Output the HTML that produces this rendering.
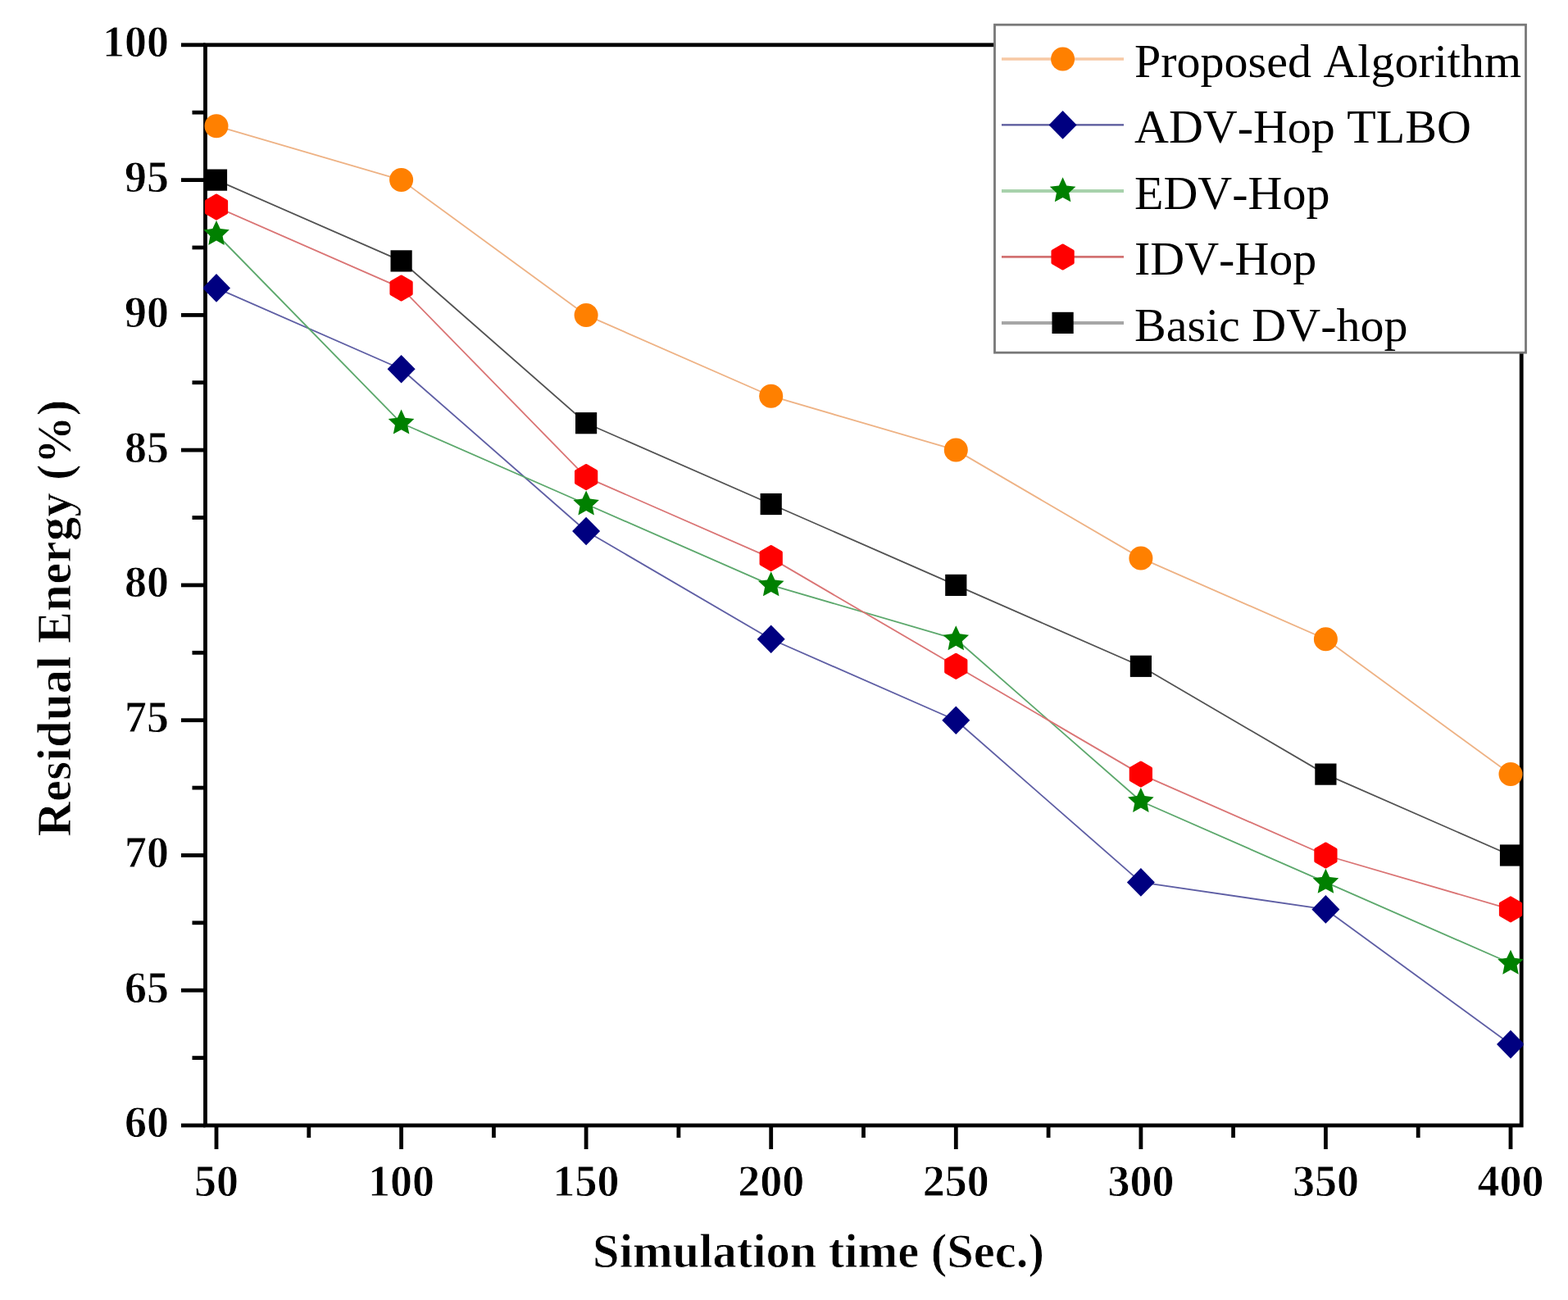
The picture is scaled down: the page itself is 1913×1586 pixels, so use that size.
<!DOCTYPE html>
<html><head><meta charset="utf-8"><style>
html,body{margin:0;padding:0;background:#fff;}
svg{display:block;}
text{font-kerning:none;font-feature-settings:"kern" 0;}
.tl{font-family:"Liberation Serif","Times New Roman",serif;font-weight:bold;font-size:54px;fill:#000;stroke:#fff;stroke-width:0.8px;}
.ti{font-family:"Liberation Serif","Times New Roman",serif;font-weight:bold;font-size:58.5px;fill:#000;stroke:#fff;stroke-width:0.8px;}
.lg{font-family:"Liberation Serif","Times New Roman",serif;font-size:58px;fill:#000;}
</style></head><body>
<svg width="1913" height="1586" viewBox="0 0 1913 1586">
<defs><clipPath id="pc"><rect x="248.10" y="0" width="1610.50" height="1586"/></clipPath></defs>
<rect width="1913" height="1586" fill="#fff"/>
<g>
<rect x="250.5" y="54.8" width="1605.7" height="1318.2" fill="none" stroke="#000" stroke-width="4.8"/>
<line x1="221" y1="1373.0" x2="250.5" y2="1373.0" stroke="#000" stroke-width="4.8"/>
<text x="206" y="1387.4" text-anchor="end" class="tl">60</text>
<line x1="221" y1="1208.2" x2="250.5" y2="1208.2" stroke="#000" stroke-width="4.8"/>
<text x="206" y="1222.6" text-anchor="end" class="tl">65</text>
<line x1="221" y1="1043.5" x2="250.5" y2="1043.5" stroke="#000" stroke-width="4.8"/>
<text x="206" y="1057.9" text-anchor="end" class="tl">70</text>
<line x1="221" y1="878.7" x2="250.5" y2="878.7" stroke="#000" stroke-width="4.8"/>
<text x="206" y="893.1" text-anchor="end" class="tl">75</text>
<line x1="221" y1="713.9" x2="250.5" y2="713.9" stroke="#000" stroke-width="4.8"/>
<text x="206" y="728.3" text-anchor="end" class="tl">80</text>
<line x1="221" y1="549.1" x2="250.5" y2="549.1" stroke="#000" stroke-width="4.8"/>
<text x="206" y="563.5" text-anchor="end" class="tl">85</text>
<line x1="221" y1="384.4" x2="250.5" y2="384.4" stroke="#000" stroke-width="4.8"/>
<text x="206" y="398.8" text-anchor="end" class="tl">90</text>
<line x1="221" y1="219.6" x2="250.5" y2="219.6" stroke="#000" stroke-width="4.8"/>
<text x="206" y="234.0" text-anchor="end" class="tl">95</text>
<line x1="221" y1="54.8" x2="250.5" y2="54.8" stroke="#000" stroke-width="4.8"/>
<text x="206" y="69.2" text-anchor="end" class="tl">100</text>
<line x1="234.5" y1="1290.6" x2="250.5" y2="1290.6" stroke="#000" stroke-width="4.8"/>
<line x1="234.5" y1="1125.8" x2="250.5" y2="1125.8" stroke="#000" stroke-width="4.8"/>
<line x1="234.5" y1="961.1" x2="250.5" y2="961.1" stroke="#000" stroke-width="4.8"/>
<line x1="234.5" y1="796.3" x2="250.5" y2="796.3" stroke="#000" stroke-width="4.8"/>
<line x1="234.5" y1="631.5" x2="250.5" y2="631.5" stroke="#000" stroke-width="4.8"/>
<line x1="234.5" y1="466.7" x2="250.5" y2="466.7" stroke="#000" stroke-width="4.8"/>
<line x1="234.5" y1="302.0" x2="250.5" y2="302.0" stroke="#000" stroke-width="4.8"/>
<line x1="234.5" y1="137.2" x2="250.5" y2="137.2" stroke="#000" stroke-width="4.8"/>
<line x1="264.0" y1="1373.0" x2="264.0" y2="1402" stroke="#000" stroke-width="4.8"/>
<text x="264.0" y="1459" text-anchor="middle" class="tl">50</text>
<line x1="489.6" y1="1373.0" x2="489.6" y2="1402" stroke="#000" stroke-width="4.8"/>
<text x="489.6" y="1459" text-anchor="middle" class="tl">100</text>
<line x1="715.1" y1="1373.0" x2="715.1" y2="1402" stroke="#000" stroke-width="4.8"/>
<text x="715.1" y="1459" text-anchor="middle" class="tl">150</text>
<line x1="940.7" y1="1373.0" x2="940.7" y2="1402" stroke="#000" stroke-width="4.8"/>
<text x="940.7" y="1459" text-anchor="middle" class="tl">200</text>
<line x1="1166.3" y1="1373.0" x2="1166.3" y2="1402" stroke="#000" stroke-width="4.8"/>
<text x="1166.3" y="1459" text-anchor="middle" class="tl">250</text>
<line x1="1391.9" y1="1373.0" x2="1391.9" y2="1402" stroke="#000" stroke-width="4.8"/>
<text x="1391.9" y="1459" text-anchor="middle" class="tl">300</text>
<line x1="1617.4" y1="1373.0" x2="1617.4" y2="1402" stroke="#000" stroke-width="4.8"/>
<text x="1617.4" y="1459" text-anchor="middle" class="tl">350</text>
<line x1="1843.0" y1="1373.0" x2="1843.0" y2="1402" stroke="#000" stroke-width="4.8"/>
<text x="1843.0" y="1459" text-anchor="middle" class="tl">400</text>
<line x1="376.8" y1="1373.0" x2="376.8" y2="1388" stroke="#000" stroke-width="4.8"/>
<line x1="602.4" y1="1373.0" x2="602.4" y2="1388" stroke="#000" stroke-width="4.8"/>
<line x1="827.9" y1="1373.0" x2="827.9" y2="1388" stroke="#000" stroke-width="4.8"/>
<line x1="1053.5" y1="1373.0" x2="1053.5" y2="1388" stroke="#000" stroke-width="4.8"/>
<line x1="1279.1" y1="1373.0" x2="1279.1" y2="1388" stroke="#000" stroke-width="4.8"/>
<line x1="1504.6" y1="1373.0" x2="1504.6" y2="1388" stroke="#000" stroke-width="4.8"/>
<line x1="1730.2" y1="1373.0" x2="1730.2" y2="1388" stroke="#000" stroke-width="4.8"/>
<polyline points="264.0,153.7 489.6,219.6 715.1,384.4 940.7,483.2 1166.3,549.1 1391.9,680.9 1617.4,779.8 1843.0,944.6" fill="none" stroke="#eeb284" stroke-width="1.8" stroke-linejoin="round"/>
<polyline points="264.0,351.4 489.6,450.3 715.1,648.0 940.7,779.8 1166.3,878.7 1391.9,1076.4 1617.4,1109.4 1843.0,1274.1" fill="none" stroke="#5e5ea4" stroke-width="1.8" stroke-linejoin="round"/>
<polyline points="264.0,285.5 489.6,516.2 715.1,615.0 940.7,713.9 1166.3,779.8 1391.9,977.5 1617.4,1076.4 1843.0,1175.3" fill="none" stroke="#5ca86c" stroke-width="1.8" stroke-linejoin="round"/>
<polyline points="264.0,252.5 489.6,351.4 715.1,582.1 940.7,680.9 1166.3,812.8 1391.9,944.6 1617.4,1043.5 1843.0,1109.4" fill="none" stroke="#da7474" stroke-width="1.8" stroke-linejoin="round"/>
<polyline points="264.0,219.6 489.6,318.4 715.1,516.2 940.7,615.0 1166.3,713.9 1391.9,812.8 1617.4,944.6 1843.0,1043.5" fill="none" stroke="#525252" stroke-width="1.8" stroke-linejoin="round"/>
<g clip-path="url(#pc)">
<circle cx="264.0" cy="153.7" r="14.5" fill="#ff8000"/>
<circle cx="489.6" cy="219.6" r="14.5" fill="#ff8000"/>
<circle cx="715.1" cy="384.4" r="14.5" fill="#ff8000"/>
<circle cx="940.7" cy="483.2" r="14.5" fill="#ff8000"/>
<circle cx="1166.3" cy="549.1" r="14.5" fill="#ff8000"/>
<circle cx="1391.9" cy="680.9" r="14.5" fill="#ff8000"/>
<circle cx="1617.4" cy="779.8" r="14.5" fill="#ff8000"/>
<circle cx="1843.0" cy="944.6" r="14.5" fill="#ff8000"/>
<polygon points="264.0,334.1 281.0,351.4 264.0,368.7 247.0,351.4" fill="#000080"/>
<polygon points="489.6,433.0 506.6,450.3 489.6,467.6 472.6,450.3" fill="#000080"/>
<polygon points="715.1,630.7 732.1,648.0 715.1,665.3 698.1,648.0" fill="#000080"/>
<polygon points="940.7,762.5 957.7,779.8 940.7,797.1 923.7,779.8" fill="#000080"/>
<polygon points="1166.3,861.4 1183.3,878.7 1166.3,896.0 1149.3,878.7" fill="#000080"/>
<polygon points="1391.9,1059.1 1408.9,1076.4 1391.9,1093.7 1374.9,1076.4" fill="#000080"/>
<polygon points="1617.4,1092.1 1634.4,1109.4 1617.4,1126.7 1600.4,1109.4" fill="#000080"/>
<polygon points="1843.0,1256.8 1860.0,1274.1 1843.0,1291.4 1826.0,1274.1" fill="#000080"/>
<polygon points="264.00,268.88 268.70,279.01 279.79,280.36 271.61,287.96 273.76,298.91 264.00,293.49 254.24,298.91 256.39,287.96 248.21,280.36 259.30,279.01" fill="#008000"/>
<polygon points="489.57,499.57 494.27,509.70 505.36,511.04 497.18,518.64 499.33,529.60 489.57,524.17 479.81,529.60 481.96,518.64 473.78,511.04 484.87,509.70" fill="#008000"/>
<polygon points="715.14,598.43 719.85,608.56 730.93,609.91 722.75,617.51 724.90,628.46 715.14,623.03 705.39,628.46 707.53,617.51 699.36,609.91 710.44,608.56" fill="#008000"/>
<polygon points="940.71,697.30 945.42,707.43 956.50,708.77 948.32,716.37 950.47,727.33 940.71,721.90 930.96,727.33 933.11,716.37 924.93,708.77 936.01,707.43" fill="#008000"/>
<polygon points="1166.29,763.21 1170.99,773.34 1182.07,774.68 1173.89,782.28 1176.04,793.24 1166.29,787.81 1156.53,793.24 1158.68,782.28 1150.50,774.68 1161.58,773.34" fill="#008000"/>
<polygon points="1391.86,960.94 1396.56,971.07 1407.64,972.41 1399.47,980.01 1401.61,990.97 1391.86,985.54 1382.10,990.97 1384.25,980.01 1376.07,972.41 1387.15,971.07" fill="#008000"/>
<polygon points="1617.43,1059.81 1622.13,1069.93 1633.22,1071.28 1625.04,1078.88 1627.19,1089.83 1617.43,1084.41 1607.67,1089.83 1609.82,1078.88 1601.64,1071.28 1612.73,1069.93" fill="#008000"/>
<polygon points="1843.00,1158.67 1847.70,1168.80 1858.79,1170.14 1850.61,1177.74 1852.76,1188.70 1843.00,1183.27 1833.24,1188.70 1835.39,1177.74 1827.21,1170.14 1838.30,1168.80" fill="#008000"/>
<polygon points="264.00,238.53 276.12,245.53 276.12,259.53 264.00,266.53 251.88,259.53 251.88,245.53" fill="#ff0000" stroke="#ff0000" stroke-width="4" stroke-linejoin="round"/>
<polygon points="489.57,337.40 501.70,344.40 501.70,358.40 489.57,365.40 477.45,358.40 477.45,344.40" fill="#ff0000" stroke="#ff0000" stroke-width="4" stroke-linejoin="round"/>
<polygon points="715.14,568.08 727.27,575.08 727.27,589.08 715.14,596.08 703.02,589.08 703.02,575.08" fill="#ff0000" stroke="#ff0000" stroke-width="4" stroke-linejoin="round"/>
<polygon points="940.71,666.94 952.84,673.94 952.84,687.94 940.71,694.94 928.59,687.94 928.59,673.94" fill="#ff0000" stroke="#ff0000" stroke-width="4" stroke-linejoin="round"/>
<polygon points="1166.29,798.76 1178.41,805.76 1178.41,819.76 1166.29,826.76 1154.16,819.76 1154.16,805.76" fill="#ff0000" stroke="#ff0000" stroke-width="4" stroke-linejoin="round"/>
<polygon points="1391.86,930.59 1403.98,937.59 1403.98,951.59 1391.86,958.59 1379.73,951.59 1379.73,937.59" fill="#ff0000" stroke="#ff0000" stroke-width="4" stroke-linejoin="round"/>
<polygon points="1617.43,1029.45 1629.55,1036.45 1629.55,1050.45 1617.43,1057.45 1605.30,1050.45 1605.30,1036.45" fill="#ff0000" stroke="#ff0000" stroke-width="4" stroke-linejoin="round"/>
<polygon points="1843.00,1095.36 1855.12,1102.36 1855.12,1116.36 1843.00,1123.36 1830.88,1116.36 1830.88,1102.36" fill="#ff0000" stroke="#ff0000" stroke-width="4" stroke-linejoin="round"/>
<rect x="250.9" y="206.5" width="26.2" height="26.2" fill="#000000"/>
<rect x="476.5" y="305.3" width="26.2" height="26.2" fill="#000000"/>
<rect x="702.0" y="503.1" width="26.2" height="26.2" fill="#000000"/>
<rect x="927.6" y="601.9" width="26.2" height="26.2" fill="#000000"/>
<rect x="1153.2" y="700.8" width="26.2" height="26.2" fill="#000000"/>
<rect x="1378.8" y="799.7" width="26.2" height="26.2" fill="#000000"/>
<rect x="1604.3" y="931.5" width="26.2" height="26.2" fill="#000000"/>
<rect x="1829.9" y="1030.4" width="26.2" height="26.2" fill="#000000"/>
</g>
<text x="998.5" y="1546" text-anchor="middle" class="ti">Simulation time (Sec.)</text>
<text transform="translate(86,754.0) rotate(-90)" x="0" y="0" text-anchor="middle" class="ti" style="letter-spacing:0.35px">Residual Energy (%)</text>
<rect x="1213.5" y="30.2" width="648" height="400" fill="#fff" stroke="#787878" stroke-width="2.8"/>
<line x1="1222" y1="71.9" x2="1371" y2="71.9" stroke="#f7c9a4" stroke-width="3.5"/>
<circle cx="1296.6" cy="71.9" r="14.5" fill="#ff8000"/>
<text x="1384" y="93.6" class="lg">Proposed Algorithm</text>
<line x1="1222" y1="152.4" x2="1371" y2="152.4" stroke="#56569a" stroke-width="2.4"/>
<polygon points="1296.6,135.1 1313.6,152.4 1296.6,169.7 1279.6,152.4" fill="#000080"/>
<text x="1384" y="174.1" class="lg">ADV-Hop TLBO</text>
<line x1="1222" y1="232.9" x2="1371" y2="232.9" stroke="#a8d2ac" stroke-width="4.0"/>
<polygon points="1296.60,216.30 1301.30,226.43 1312.39,227.77 1304.21,235.37 1306.36,246.33 1296.60,240.90 1286.84,246.33 1288.99,235.37 1280.81,227.77 1291.90,226.43" fill="#008000"/>
<text x="1384" y="254.6" class="lg">EDV-Hop</text>
<line x1="1222" y1="313.4" x2="1371" y2="313.4" stroke="#d27272" stroke-width="2.6"/>
<polygon points="1296.60,299.40 1308.72,306.40 1308.72,320.40 1296.60,327.40 1284.48,320.40 1284.48,306.40" fill="#ff0000" stroke="#ff0000" stroke-width="4" stroke-linejoin="round"/>
<text x="1384" y="335.1" class="lg">IDV-Hop</text>
<line x1="1222" y1="393.9" x2="1371" y2="393.9" stroke="#a6a6a6" stroke-width="4.0"/>
<rect x="1283.5" y="380.8" width="26.2" height="26.2" fill="#000000"/>
<text x="1384" y="415.6" class="lg">Basic DV-hop</text>
</g>
</svg>
</body></html>
